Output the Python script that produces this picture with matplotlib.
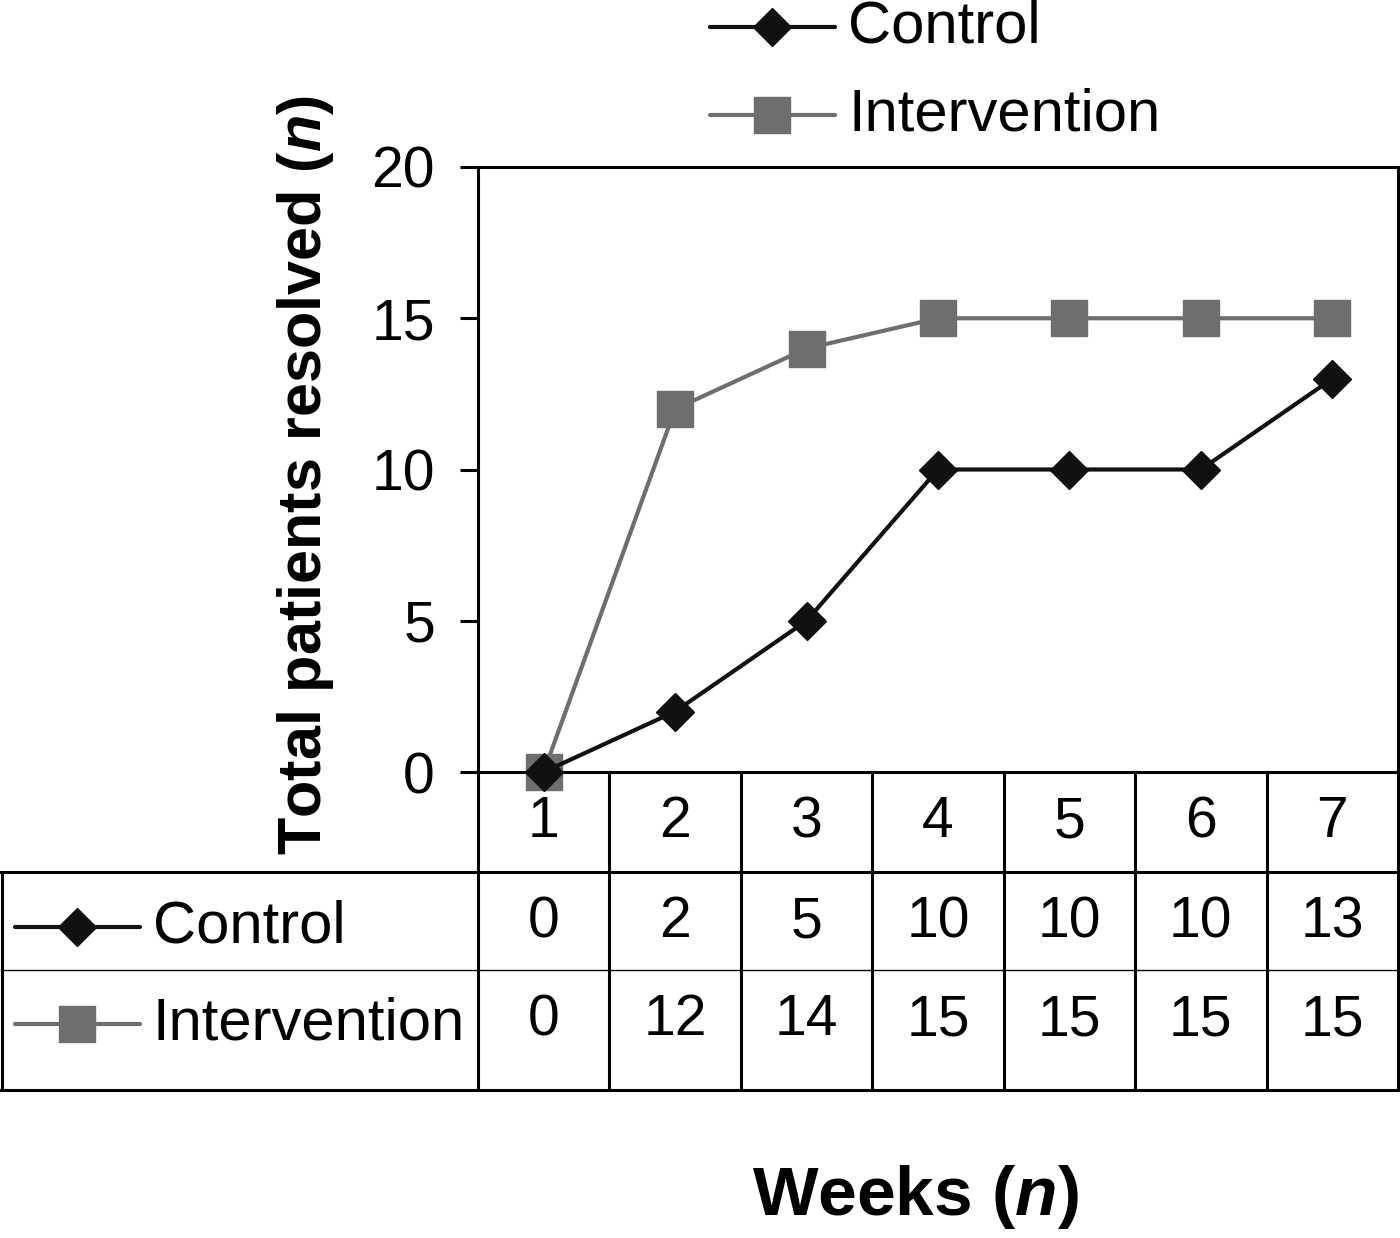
import matplotlib
matplotlib.use("Agg")
import matplotlib.pyplot as plt
from matplotlib.lines import Line2D
import matplotlib.transforms as mtransforms

plt.rcParams['font.family'] = ['Liberation Sans', 'DejaVu Sans']
plt.rcParams['mathtext.fontset'] = 'custom'
plt.rcParams['mathtext.it'] = 'Liberation Sans:bold:italic'

# data
weeks = [1, 2, 3, 4, 5, 6, 7]
control = [0, 2, 5, 10, 10, 10, 13]
intervention = [0, 12, 14, 15, 15, 15, 15]
yticks = [0, 5, 10, 15, 20]

W, H = 1400, 1238
fig = plt.figure(figsize=(W / 100, H / 100), dpi=100)

def fx(px):
    return px / W

def fy(py):
    return (H - py) / H

c_col = '#111111'
i_col = '#6e6e6e'
lw = 3.0

ax = fig.add_axes([fx(478), fy(772), fx(1398) - fx(478), fy(167) - fy(772)])
ax.plot(weeks, intervention, color=i_col, lw=lw, marker='s', ms=26,
        mec=i_col, mfc=i_col, zorder=3, clip_on=False)
ax.plot(weeks, control, color=c_col, lw=lw, marker='D', ms=19,
        mec=c_col, mfc=c_col, zorder=4, clip_on=False)

ax.set_xlim(0.5, 7.5)
ax.set_ylim(0, 20)
ax.set_xticks([])
ax.set_yticks(yticks)
ax.tick_params(axis='y', direction='out', length=13, width=2.2, pad=18,
               labelsize=41)
for s in ax.spines.values():
    s.set_linewidth(2.2)

# table grid
bl = mtransforms.blended_transform_factory(ax.transData, fig.transFigure)
for b in [k + 0.5 for k in range(len(weeks) + 1)]:
    fig.add_artist(Line2D([b, b], [fy(772), fy(1090)], transform=bl,
                          color='black', lw=2.2))
fig.add_artist(Line2D([fx(0) + 0.001, 1.0], [fy(872), fy(872)], color='black', lw=2.2))
fig.add_artist(Line2D([fx(0) + 0.001, 1.0], [fy(970), fy(970)], color='black', lw=1.0))
fig.add_artist(Line2D([fx(0) + 0.001, 1.0], [fy(1090), fy(1090)], color='black', lw=2.2))
fig.add_artist(Line2D([0.0015, 0.0015], [fy(872), fy(1090)], color='black', lw=2.2))

# table text
for k, w in enumerate(weeks):
    ax.text(w, fy(822), str(w), transform=bl, ha='center', va='center', fontsize=41)
    ax.text(w, fy(922), str(control[k]), transform=bl, ha='center', va='center', fontsize=41)
    ax.text(w, fy(1020), str(intervention[k]), transform=bl, ha='center', va='center', fontsize=41)

def key(x0, y, color, marker, ms, label, fs):
    # little legend key: line + marker + label
    fig.add_artist(Line2D([fx(x0), fx(x0 + 62), fx(x0 + 125)], [fy(y)] * 3,
                          color=color, lw=lw, marker=marker, ms=ms, mfc=color,
                          mec=color, markevery=[1], solid_capstyle='round'))
    fig.text(fx(x0 + 138), fy(y), label, ha='left', va='center', fontsize=fs)

key(710, 27, c_col, 'D', 19, 'Control', 43)
key(710, 115, i_col, 's', 26, 'Intervention', 43)
key(15, 927, c_col, 'D', 19, 'Control', 43)
key(15, 1024, i_col, 's', 26, 'Intervention', 43)

fig.text(fx(305), fy(475), 'Total patients resolved ($\\mathit{n}$)', rotation=90,
         ha='center', va='center', fontsize=44, fontweight='bold')
fig.text(fx(915), fy(1197), 'Weeks ($\\mathit{n}$)', ha='center', va='center',
         fontsize=50, fontweight='bold')

fig.savefig('out.png', dpi=100)
